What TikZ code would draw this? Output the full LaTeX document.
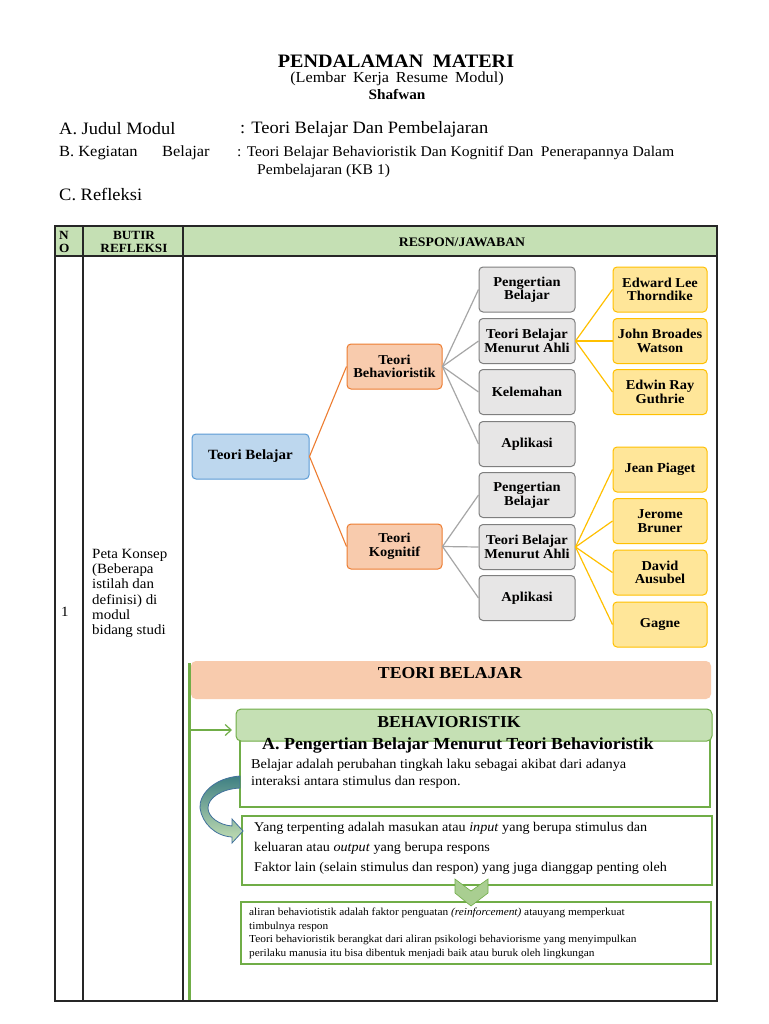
\documentclass[tikz,border=0pt]{standalone}
\usepackage{fontspec}
\setmainfont{Liberation Serif}[FakeStretch=1.06]
\usepackage{xcolor}
\usetikzlibrary{arrows.meta}
\definecolor{hdrgreen}{HTML}{C5E0B4}
\definecolor{leaf}{HTML}{70AD47}
\definecolor{bluefill}{HTML}{BDD7EE}
\definecolor{blueline}{HTML}{5B9BD5}
\definecolor{orangefill}{HTML}{F8CBAD}
\definecolor{orangeline}{HTML}{ED7D31}
\definecolor{grayfill}{HTML}{E7E6E6}
\definecolor{grayline}{HTML}{7F7F7F}
\definecolor{yellowfill}{HTML}{FFE699}
\definecolor{yellowline}{HTML}{FFC000}
\definecolor{arrowdark}{HTML}{3E7F83}
\definecolor{arrowlight}{HTML}{C5E0B4}
\definecolor{arrowedge}{HTML}{41719C}
\newcommand\setfs[2]{\fontsize{#1}{#2}\selectfont}
\tikzset{
  tabline/.style={draw=black!85, line width=1.3pt},
  mapbox/.style={rounded corners=4pt, line width=1pt, minimum height=45pt,
    align=center, inner sep=1pt, font=\bfseries\setfs{13.6}{13.5}},
  blueb/.style={mapbox, fill=bluefill, draw=blueline, minimum width=117pt},
  orangeb/.style={mapbox, fill=orangefill, draw=orangeline, minimum width=95pt},
  grayb/.style={mapbox, fill=grayfill, draw=grayline, minimum width=96pt},
  yellowb/.style={mapbox, fill=yellowfill, draw=yellowline, minimum width=94pt},
  lnorange/.style={draw=orangeline, line width=1.1pt},
  lngray/.style={draw=black!35, line width=1.2pt},
  lnyellow/.style={draw=yellowline, line width=1.2pt},
  greenbox/.style={draw=leaf, line width=1.6pt, fill=white},
  txt/.style={inner sep=0pt, anchor=west},
  every node/.style={text=black}
}

\begin{document}
\begin{tikzpicture}[x=1pt,y=-1pt]
  \useasboundingbox[fill=white] (0,0) rectangle (768,1024);

  % heading
  \node[font=\bfseries\setfs{19}{22}] (title) at (396,61) {PENDALAMAN\hspace{0.5em}MATERI};
  \node[font=\setfs{15.3}{18}] (sub) at (397,79) {(Lembar\hspace{0.45em}Kerja\hspace{0.45em}Resume\hspace{0.45em}Modul)};
  \node[font=\bfseries\setfs{14.4}{16}] (author) at (397,95) {Shafwan};

  \node[txt, font=\setfs{17.4}{20}] (ja) at (59,129) {A. Judul Modul};
  \node[txt, font=\setfs{17.4}{20}] (jb) at (240,129) {: Teori Belajar Dan Pembelajaran};
  \node[txt, font=\setfs{15.5}{18}] (ka) at (59,153) {B. Kegiatan};
  \node[txt, font=\setfs{15.5}{18}] (kb) at (162,153) {Belajar};
  \node[txt, font=\setfs{14.75}{17}] (kc) at (237,153) {: Teori Belajar Behavioristik Dan Kognitif Dan\hspace{0.5em}Penerapannya Dalam};
  \node[txt, font=\setfs{14.75}{17}] (kd) at (257,171) {Pembelajaran (KB 1)};
  \node[txt, font=\setfs{17.4}{20}] (refl) at (59,194) {C. Refleksi};

  % table
  \fill[hdrgreen] (55,226) rectangle (717,256);
  \draw[tabline] (55,226) rectangle (717,1001);
  \draw[tabline] (83,226) -- (83,1001);
  \draw[tabline] (183,226) -- (183,1001);
  \draw[tabline] (55,256) -- (717,256);
  \node[font=\bfseries\setfs{12.5}{13}, align=left, anchor=west, inner sep=0pt] (hno) at (59,242) {N\\O};
  \node[font=\bfseries\setfs{12.5}{13.5}, align=center] (hbutir) at (134,242) {BUTIR\\REFLEKSI};
  \node[font=\bfseries\setfs{13}{14}] (hrespon) at (462,242) {RESPON/JAWABAN};
  \node[txt, font=\setfs{14.1}{15}] (rowno) at (61,612) {1};
  \node[font=\setfs{14.1}{15.2}, align=left, anchor=north west, inner sep=0pt] (butir) at (92,549)
    {Peta Konsep\\(Beberapa\\istilah dan\\definisi) di\\modul\\bidang studi};

  % concept map
  \node[blueb] (tb) at (250.5,456.5) {\setfs{14.1}{14}Teori Belajar};
  \node[orangeb] (beh) at (394.5,366.5) {Teori\\Behavioristik};
  \node[orangeb] (kog) at (394.5,546.5) {Teori\\Kognitif};

  \node[grayb] (p1) at (527,289.5) {Pengertian\\Belajar};
  \node[grayb] (a1) at (527,341) {Teori Belajar\\Menurut Ahli};
  \node[grayb] (kel) at (527,392) {Kelemahan};
  \node[grayb] (ap1) at (527,444) {Aplikasi};
  \node[grayb] (p2) at (527,495) {Pengertian\\Belajar};
  \node[grayb] (a2) at (527,547) {Teori Belajar\\Menurut Ahli};
  \node[grayb] (ap2) at (527,598) {Aplikasi};

  \node[yellowb] (thorn) at (660,289.5) {Edward Lee\\Thorndike};
  \node[yellowb] (watson) at (660,341) {John Broades\\Watson};
  \node[yellowb] (guthrie) at (660,392) {Edwin Ray\\Guthrie};
  \node[yellowb] (piaget) at (660,469.5) {Jean Piaget};
  \node[yellowb] (bruner) at (660,521) {Jerome\\Bruner};
  \node[yellowb] (ausubel) at (660,572.5) {David\\Ausubel};
  \node[yellowb] (gagne) at (660,624.5) {Gagne};

  \draw[lnorange] (beh.west) -- (tb.east) -- (kog.west);
  \foreach \g in {p1,a1,kel,ap1} \draw[lngray] (beh.east) -- (\g.west);
  \foreach \g in {p2,a2,ap2} \draw[lngray] (kog.east) -- (\g.west);
  \foreach \y in {thorn,watson,guthrie} \draw[lnyellow] (a1.east) -- (\y.west);
  \foreach \y in {piaget,bruner,ausubel,gagne} \draw[lnyellow] (a2.east) -- (\y.west);

  % lower part
  \draw[draw=leaf, line width=3pt] (189,663) -- (189,1000);
  \fill[orangefill, rounded corners=5pt] (191,661) rectangle (711,699);
  \node[font=\bfseries\setfs{16.7}{19}] (head) at (450,673) {TEORI BELAJAR};

  \draw[greenbox] (240,735) rectangle (710,807);
  \node[draw=leaf, line width=1pt, fill=hdrgreen, rounded corners=5pt, minimum width=476pt,
    minimum height=32pt, inner sep=0pt] (behbox) at (474,725) {};
  \node[font=\bfseries\setfs{16.7}{19}] (behtxt) at (449,722) {BEHAVIORISTIK};
  \node[txt, font=\bfseries\setfs{16.9}{19}] (sec) at (262,745) {A. Pengertian Belajar Menurut Teori Behavioristik};
  \coordinate (arrtip) at (232,730);
  \draw[draw=leaf, line width=1.2pt, -{Straight Barb[length=6pt,width=11pt]}] (190,730) -- (arrtip);

  \node[font=\setfs{13.5}{17}, align=left, anchor=north west, inner sep=0pt] (t1) at (251,759)
    {Belajar adalah perubahan tingkah laku sebagai akibat dari adanya\\interaksi antara stimulus dan respon.};

  \draw[greenbox] (242,816) rectangle (712,885);
  \node[font=\setfs{13.35}{20}, align=left, anchor=north west, inner sep=0pt] (t2) at (254,822)
    {Yang terpenting adalah masukan atau \textit{input} yang berupa stimulus dan\\
     keluaran atau \textit{output} yang berupa respons\\
     Faktor lain (selain stimulus dan respon) yang juga dianggap penting oleh};

  \draw[greenbox] (241,902) rectangle (711,964);
  \node[font=\setfs{10.7}{13.6}, align=left, anchor=north west, inner sep=0pt] (t3) at (249,908)
    {aliran behaviotistik adalah faktor penguatan \textit{(reinforcement)} atauyang memperkuat\\
     timbulnya respon\\
     Teori behavioristik berangkat dari aliran psikologi behaviorisme yang menyimpulkan\\
     perilaku manusia itu bisa dibentuk menjadi baik atau buruk oleh lingkungan};

  % chevron between boxes
  \filldraw[fill=leaf!60, draw=leaf, line width=0.6pt]
    (455,879) -- (471,891) -- (488,879) -- (488,893) -- (471,906) -- (455,893) -- cycle;

  % curved arrow
  \draw[draw=arrowedge, line width=0.8pt, top color=arrowdark, bottom color=arrowlight]
    (240,776) .. controls (213,778) and (199,795) .. (200,808)
    .. controls (202,823) and (215,836) .. (232,837) -- (232,843) -- (243,831) -- (232,819)
    -- (232,826) .. controls (219,825) and (208,817) .. (208,808)
    .. controls (208,798) and (221,789) .. (240,788) -- cycle;
\end{tikzpicture}
\end{document}
